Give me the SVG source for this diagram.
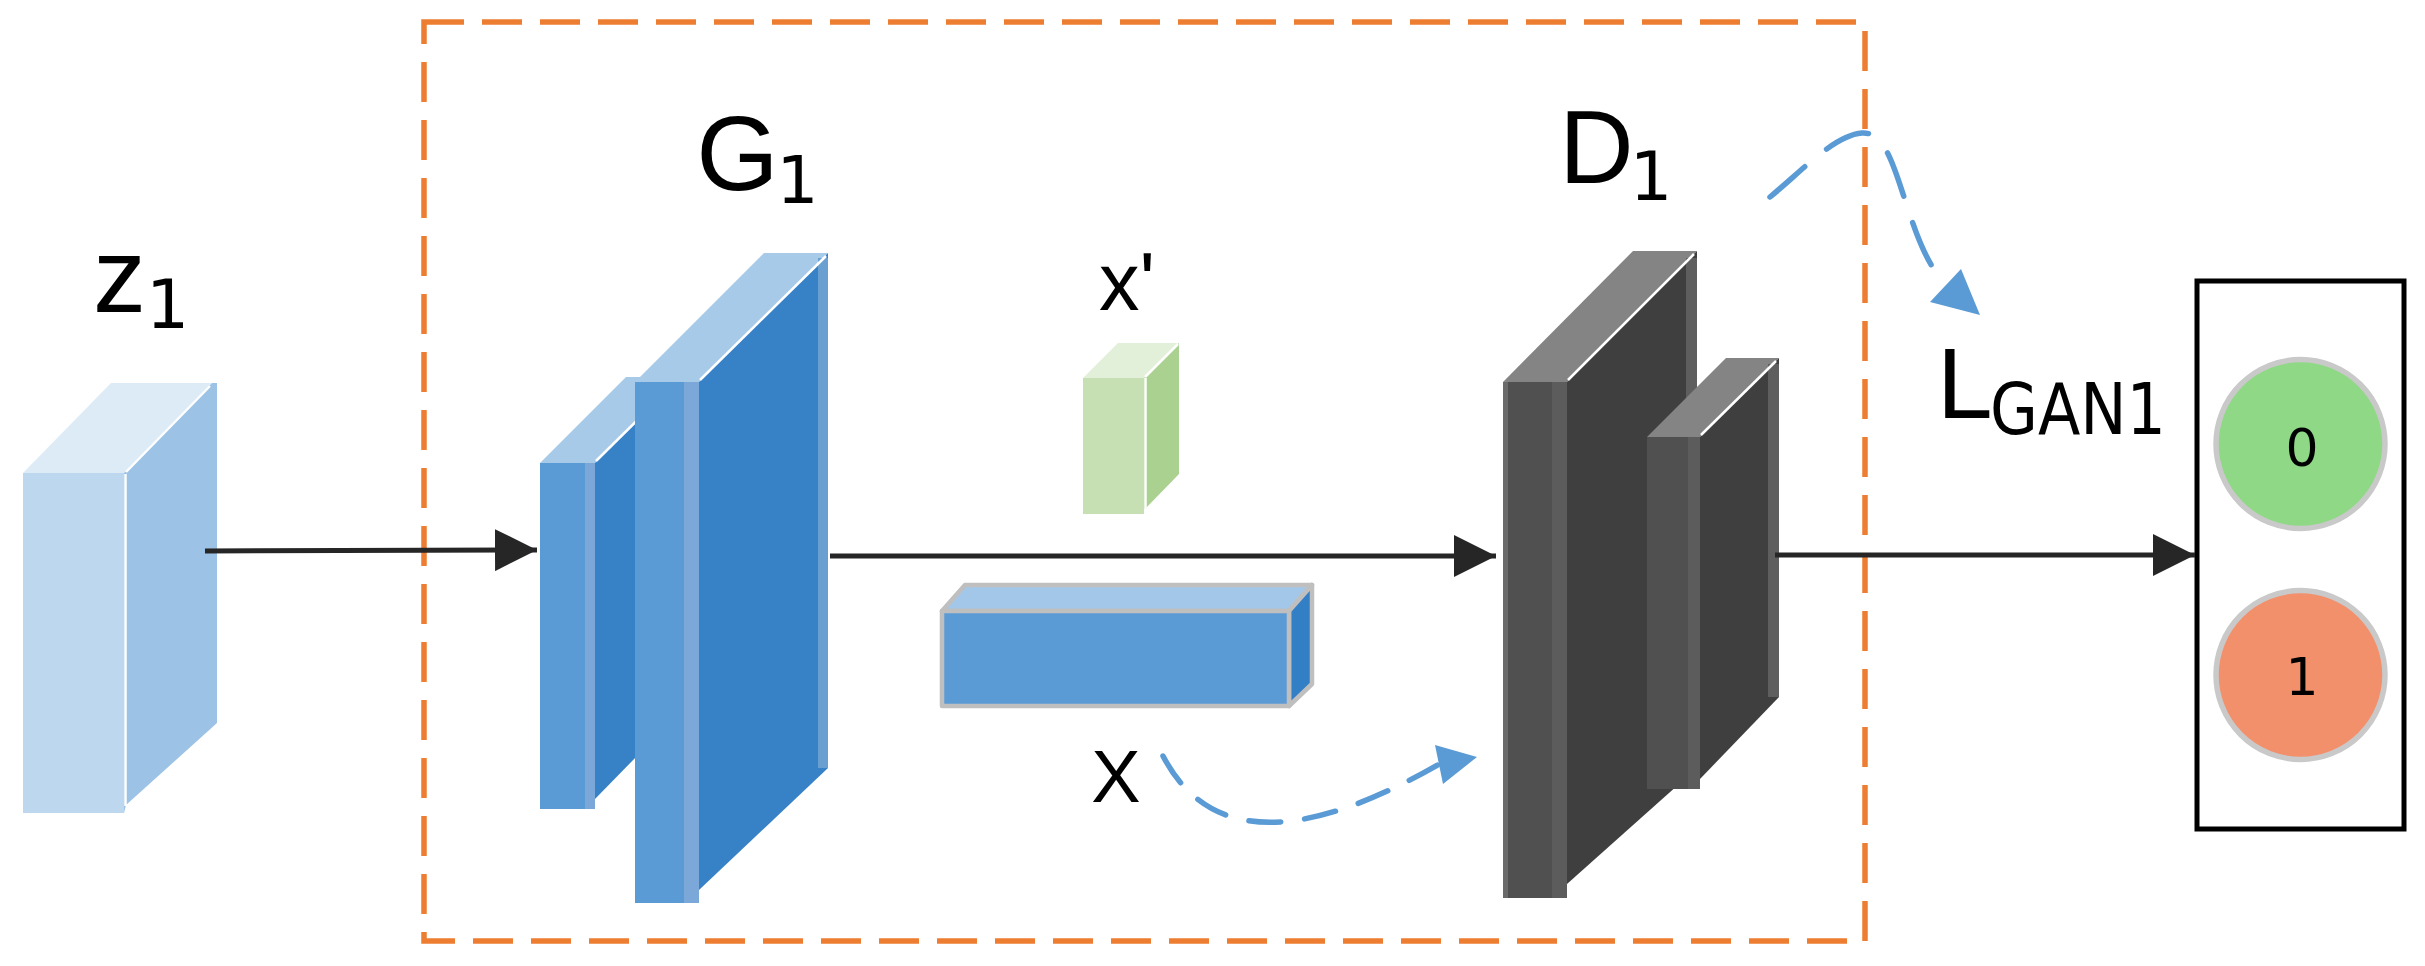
<svg xmlns="http://www.w3.org/2000/svg" width="2425" height="966" viewBox="0 0 2425 966">
<defs>
<style>
.lbl{font-family:"Liberation Sans",Arial,sans-serif;fill:#000}
.dig{font-family:"DejaVu Sans","Liberation Sans",sans-serif;fill:#000}
.wl{stroke:#fff;stroke-width:2.5;fill:none}
.conn{stroke:#262626;stroke-width:5;fill:none}
.bd{stroke:#5B9BD5;stroke-width:5.5;fill:none;stroke-linecap:round}
.gF{fill:#5B9BD5}.gS{fill:#3781C6}.gT{fill:#A8CAE9}.gE{fill:#7BA8D8}
.dF{fill:#505050}.dS{fill:#3F3F3F}.dT{fill:#848484}.dE{fill:#5C5C5C}
</style>
<marker id="ah" markerUnits="userSpaceOnUse" markerWidth="42" markerHeight="42" refX="40" refY="20" orient="auto" viewBox="0 0 40 40">
<path d="M0,0 L40,20 L0,40 z" fill="#262626"/>
</marker>
</defs>
<rect width="2425" height="966" fill="#fff"/>

<rect id="frame" x="424" y="22" width="1441" height="919" fill="none" stroke="#ED7D31" stroke-width="5.5" stroke-dasharray="40 18"/>

<g id="z1">
<polygon points="23,473 124,473 212,383 111,383" fill="#DDEBF7"/>
<polygon points="124,473 212,383 217,383 217,723 126,805 124,813" fill="#9CC2E5"/>
<rect x="23" y="473" width="101" height="340" fill="#BDD7EE"/>
<line class="wl" x1="125.5" y1="474" x2="125.5" y2="806"/>
<line class="wl" x1="126" y1="472" x2="210" y2="386"/>
<text class="lbl" x="93" y="312" font-size="106">z<tspan class="dig" font-size="68" dy="16">1</tspan></text>
</g>

<g id="G1">
<polygon class="gT" points="540,463 595,463 681,377 626,377"/>
<polygon class="gS" points="595,463 681,377 681,711 595,799"/>
<rect class="gF" x="540" y="463" width="55" height="346"/>
<rect class="gE" x="585" y="463" width="10" height="346"/>
<line class="wl" x1="596" y1="461" x2="680" y2="378"/>
<polygon class="gT" points="635,382 699,382 828,253 764,253"/>
<polygon class="gS" points="699,382 828,253 828,768 699,890"/>
<rect x="818" y="258" width="10" height="510" fill="#6A9FD2"/>
<rect class="gF" x="635" y="382" width="64" height="521"/>
<rect class="gE" x="684" y="382" width="15" height="521"/>
<line class="wl" x1="700" y1="380" x2="826" y2="256"/>
<text class="lbl" x="737.5" y="190" font-size="106" text-anchor="middle">G</text>
<text class="dig" x="797.5" y="203" font-size="66" text-anchor="middle">1</text>
</g>

<g id="xprime">
<polygon points="1083,378 1144,378 1179,343 1118,343" fill="#E2EFD9"/>
<polygon points="1144,378 1179,343 1179,474 1144,510" fill="#AAD18F"/>
<rect x="1083" y="378" width="61" height="136" fill="#C6E0B4"/>
<line class="wl" x1="1145.5" y1="378" x2="1145.5" y2="512"/>
<line class="wl" x1="1145" y1="377" x2="1178" y2="344"/>
<text class="lbl" x="1099" y="310" font-size="81">x'</text>
</g>

<g id="X">
<g stroke="#BFBFBF" stroke-width="4.5" stroke-linejoin="round">
<polygon points="942,611 1289,611 1312,585 965,585" fill="#A3C7E8"/>
<polygon points="1289,611 1312,585 1312,684 1289,706" fill="#337FC6"/>
<rect x="942" y="611" width="347" height="95" fill="#5B9BD5"/>
</g>
<text class="lbl" x="1116" y="802" font-size="74" text-anchor="middle">X</text>
</g>

<g id="D1">
<polygon class="dT" points="1503,382 1567,382 1697,251 1633,251"/>
<polygon class="dS" points="1567,382 1697,251 1697,768 1567,884"/>
<rect x="1686" y="258" width="11" height="510" fill="#5E5E5E"/>
<rect class="dF" x="1503" y="382" width="64" height="516"/>
<rect class="dE" x="1552" y="382" width="15" height="516"/>
<rect x="1503" y="382" width="5" height="516" fill="#6A6A6A"/>
<line class="wl" x1="1568" y1="380" x2="1694" y2="254"/>
<polygon class="dT" points="1647,437 1700,437 1779,358 1726,358"/>
<polygon class="dS" points="1700,437 1779,358 1779,697 1700,779"/>
<rect x="1768" y="364" width="11" height="333" fill="#5E5E5E"/>
<rect class="dF" x="1647" y="437" width="53" height="352"/>
<rect class="dE" x="1688" y="437" width="12" height="352"/>
<line class="wl" x1="1701" y1="435" x2="1776" y2="361"/>
<text class="lbl" x="1596.5" y="183" font-size="103" text-anchor="middle">D</text>
<text class="dig" x="1651" y="200" font-size="67" text-anchor="middle">1</text>
</g>

<g id="loss">
<text class="lbl" x="1937" y="418" font-size="100">L</text>
<text class="dig" x="1990" y="434" font-size="71" textLength="176" lengthAdjust="spacingAndGlyphs">GAN1</text>
</g>

<g id="output">
<rect x="2197" y="281" width="207" height="548" fill="#fff" stroke="#000" stroke-width="5"/>
<circle cx="2300.5" cy="444" r="84.5" fill="#8FD885" stroke="#C9C9C9" stroke-width="5.5"/>
<circle cx="2300.5" cy="675" r="84.5" fill="#F3906C" stroke="#C9C9C9" stroke-width="5.5"/>
<text class="dig" x="2302" y="466" font-size="52" text-anchor="middle">0</text>
<text class="dig" x="2302" y="695" font-size="52" text-anchor="middle">1</text>
</g>

<g id="connectors">
<line class="conn" x1="205" y1="551" x2="537" y2="550" marker-end="url(#ah)"/>
<line class="conn" x1="830" y1="556" x2="1496" y2="556" marker-end="url(#ah)"/>
<line class="conn" x1="1775" y1="555" x2="2195" y2="555" marker-end="url(#ah)"/>
<path class="bd" d="M1163,756 Q1230,885 1441,763" stroke-dasharray="32 24"/>
<polygon points="1477,757 1435,745 1443,784" fill="#5B9BD5"/>
<path class="bd" d="M1770,197 C1805,168 1835,135 1862,133 C1885,131 1895,170 1905,200 S1925,262 1945,284" stroke-dasharray="46 28"/>
<polygon points="1980,315 1930,302 1961,269" fill="#5B9BD5"/>
</g>
</svg>
